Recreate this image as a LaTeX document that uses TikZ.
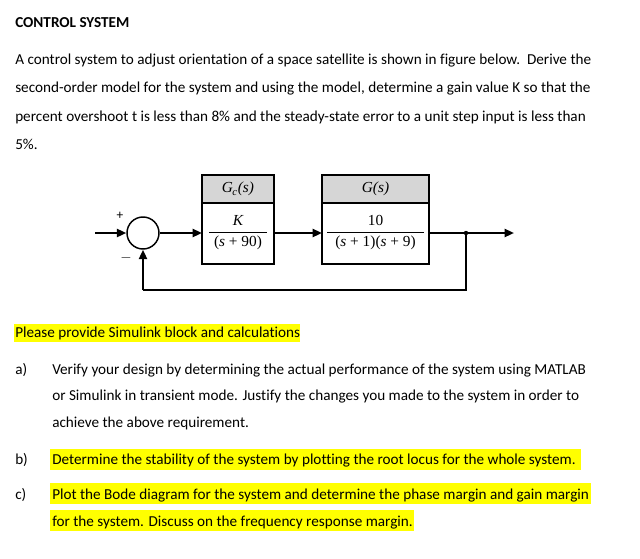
\documentclass[tikz,border=0pt]{standalone}
\usepackage{fontspec}
\setmainfont{Carlito}[RawFeature={-liga;-clig;-dlig}]
\newfontfamily\tnr{Liberation Serif}
\usetikzlibrary{arrows.meta}
\definecolor{hl}{RGB}{255,255,0}
\definecolor{hdr}{RGB}{214,214,214}
\begin{document}
\begin{tikzpicture}[x=0.75pt,y=-0.75pt,
  txt/.style={anchor=base west,inner sep=0pt,font=\fontsize{11.4}{13}\selectfont},
  hlbox/.style={fill=hl,draw=none},
  blk/.style={draw,line width=1.1pt},
  sig/.style={line width=1.6pt,-{Triangle[length=7pt,width=6pt]}},
  ln/.style={line width=1.6pt},
  math/.style={font=\tnr\fontsize{11.5}{13}\selectfont,inner sep=0pt}]
\useasboundingbox (0,0) rectangle (640,558);
\fill[white] (0,0) rectangle (640,558);
% highlights
\fill[hlbox] (14,324) rectangle (300,342);
\fill[hlbox] (50,449) rectangle (581,470);
\fill[hlbox] (50,483) rectangle (591,504);
\fill[hlbox] (50,510) rectangle (414,531);
% text
\node[txt,font=\bfseries\fontsize{11.4}{13}\selectfont] (t0) at (15,27) {CONTROL SYSTEM};
\node[txt] (p1) at (15,64) {A control system to adjust orientation of a space satellite is shown in figure below.\ \ Derive the};
\node[txt] (p2) at (15,92) {second-order model for the system and using the model, determine a gain value K so that the};
\node[txt] (p3) at (15,121) {percent overshoot t is less than 8\% and the steady-state error to a unit step input is less than};
\node[txt] (p4) at (15,149) {5\%.};
\node[txt] (q0) at (15,337) {Please provide Simulink block and calculations};
\node[txt] (la) at (15,374) {a)};
\node[txt] (a1) at (52,374) {Verify your design by determining the actual performance of the system using MATLAB};
\node[txt] (a2) at (52,400) {or Simulink in transient mode. Justify the changes you made to the system in order to};
\node[txt] (a3) at (52,427) {achieve the above requirement.};
\node[txt] (lb) at (15,464) {b)};
\node[txt] (b1) at (52,464) {Determine the stability of the system by plotting the root locus for the whole system.};
\node[txt] (lc) at (15,499) {c)};
\node[txt] (c1) at (52,499) {Plot the Bode diagram for the system and determine the phase margin and gain margin};
\node[txt] (c2) at (52,526) {for the system. Discuss on the frequency response margin.};
% block diagram
\fill[hdr] (202,175) rectangle (274,203);
\fill[hdr] (322,175) rectangle (429,203);
\draw[blk] (202,175) rectangle (274,264);
\draw[blk] (202,203) -- (274,203);
\draw[blk] (322,175) rectangle (429,264);
\draw[blk] (322,203) -- (429,203);
\node[math] (g1h) at (238,189) {\itshape G\textsubscript{\kern-0.5pt c}(s)};
\node[math] (g2h) at (375.5,189) {\itshape G(s)};
\node[math] (g1n) at (238,220) {\itshape K};
\node[math] (g1d) at (238,243) {(\textit{s} + 90)};
\draw[line width=0.6pt] (209,232) -- (267,232);
\node[math] (g2n) at (375.5,220) {10};
\node[math] (g2d) at (375.5,243) {(\textit{s} + 1)(\textit{s} + 9)};
\draw[line width=0.6pt] (327,232) -- (424,232);
\coordinate (b1in) at (202,233);
\coordinate (b1out) at (274,233);
\coordinate (b2in) at (322,233);
\coordinate (b2out) at (429,233);
\node[draw,circle,line width=1.1pt,minimum size=24pt,inner sep=0pt] (sum) at (143,233) {};
\coordinate (in) at (95,233);
\coordinate (jn) at (466,233);
\coordinate (out) at (514,233);
\coordinate (fb1) at (466,290);
\coordinate (fb2) at (143,290);
\draw[sig] (in) -- (sum.west);
\draw[sig] (sum.east) -- (b1in);
\draw[sig] (b1out) -- (b2in);
\draw[sig] (b2out) -- (out);
\fill (jn) circle (2.2);
\draw[ln] (jn) -- (fb1) -- (fb2);
\draw[sig] (fb2) -- (sum.south);
\node[font=\fontsize{10}{10}\selectfont,inner sep=0pt] (plus) at (120,216) {+};
\node[font=\fontsize{11}{11}\selectfont,inner sep=0pt] (minus) at (126,258) {$-$};
\end{tikzpicture}
\end{document}
